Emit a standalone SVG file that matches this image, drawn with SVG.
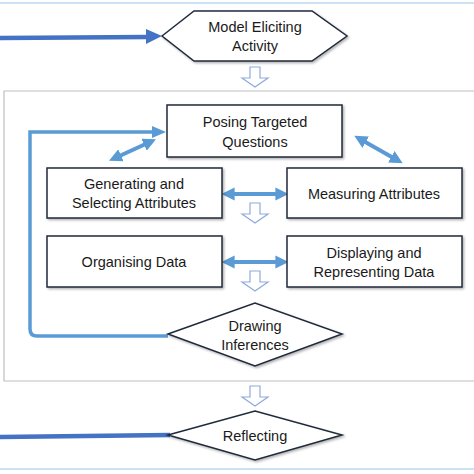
<svg xmlns="http://www.w3.org/2000/svg" width="474" height="474" viewBox="0 0 474 474">
<style>
.box{fill:#fff;stroke:#1f2a3a;stroke-width:1.5;filter:url(#sh)}
.t{font-family:"Liberation Sans",Arial,sans-serif;font-size:14.5px;fill:#1a1a1a;text-anchor:middle}
.dbl{stroke:#5b9bd5;stroke-width:4;fill:none;marker-start:url(#ah);marker-end:url(#ah)}
.hol{fill:#fff;stroke:#8faadc;stroke-width:1.2}
</style>
<defs>
<filter id="sh" x="-10%" y="-10%" width="125%" height="130%"><feDropShadow dx="1.5" dy="1.5" stdDeviation="1.2" flood-color="#000" flood-opacity="0.3"/></filter>
<marker id="ah" viewBox="0 0 10 10" refX="5" refY="5" markerWidth="3.3" markerHeight="3.3" orient="auto-start-reverse" markerUnits="strokeWidth"><path d="M0 0 L10 5 L0 10 Z" fill="#5b9bd5"/></marker>
<path id="ha" d="M-5 0 H5 V11 H13 L0 20 L-13 11 H-5 Z"/>
</defs>
<line x1="0" y1="3" x2="474" y2="3" stroke="#bdd7ee" stroke-width="1.5"/>
<line x1="0" y1="469" x2="474" y2="469" stroke="#bdd7ee" stroke-width="1.5"/>
<path d="M474 91 H4 V381 H474" fill="none" stroke="#bfbfbf" stroke-width="1.2"/>
<g id="connectors">
<line x1="0" y1="38" x2="148" y2="37" stroke="#4472c4" stroke-width="4.5"/>
<polygon points="146,29 162,36 146,44" fill="#4472c4"/>
<line x1="0" y1="437" x2="170" y2="435" stroke="#4472c4" stroke-width="4.5"/>
<path d="M168 336 H37 Q30 336 30 329 V132 H154" fill="none" stroke="#5b9bd5" stroke-width="3.5"/>
<polygon points="152,126 166,132 152,138" fill="#5b9bd5"/>
<line class="dbl" x1="115" y1="158" x2="150" y2="142"/>
<line class="dbl" x1="360" y1="139" x2="397" y2="160"/>
<line class="dbl" x1="228" y1="194" x2="282" y2="194"/>
<line class="dbl" x1="228" y1="262" x2="282" y2="262"/>
<use href="#ha" class="hol" x="255" y="67"/>
<use href="#ha" class="hol" x="255" y="203"/>
<use href="#ha" class="hol" x="255" y="271"/>
<use href="#ha" class="hol" x="255" y="386"/>
</g>
<g id="model-eliciting">
<polygon class="box" points="162,36 194,11 312,11 347,36 312,61 194,61"/>
<text class="t" x="255" y="32">Model Eliciting</text>
<text class="t" x="255" y="51">Activity</text>
</g>
<g id="posing">
<rect class="box" x="167" y="105" width="175" height="52"/>
<text class="t" x="255" y="127">Posing Targeted</text>
<text class="t" x="255" y="147">Questions</text>
</g>
<g id="generating">
<rect class="box" x="47" y="168" width="175" height="50"/>
<text class="t" x="134" y="189">Generating and</text>
<text class="t" x="134" y="208">Selecting Attributes</text>
</g>
<g id="measuring">
<rect class="box" x="287" y="168" width="175" height="50"/>
<text class="t" x="374" y="199">Measuring Attributes</text>
</g>
<g id="organising">
<rect class="box" x="47" y="236" width="175" height="51"/>
<text class="t" x="134" y="267">Organising Data</text>
</g>
<g id="displaying">
<rect class="box" x="287" y="236" width="175" height="51"/>
<text class="t" x="374" y="258">Displaying and</text>
<text class="t" x="374" y="277">Representing Data</text>
</g>
<g id="drawing">
<polygon class="box" points="168,334 255,303 342,334 255,366"/>
<text class="t" x="255" y="331">Drawing</text>
<text class="t" x="255" y="350">Inferences</text>
</g>
<g id="reflecting">
<polygon class="box" points="168,435 255,411 342,435 255,460"/>
<text class="t" x="255" y="441">Reflecting</text>
</g>
</svg>
